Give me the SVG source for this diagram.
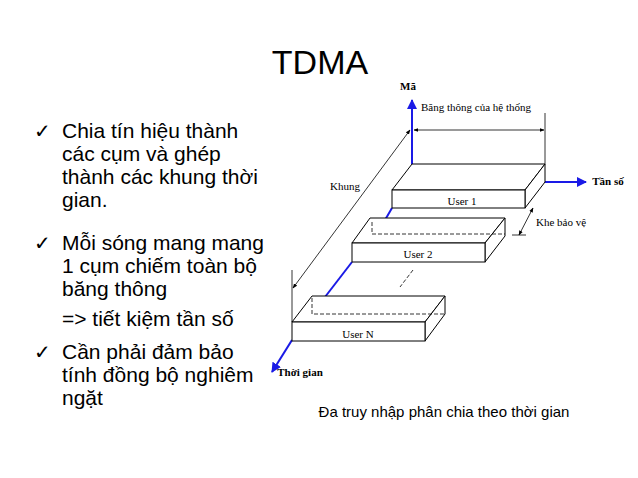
<svg xmlns="http://www.w3.org/2000/svg" width="638" height="478" viewBox="0 0 638 478">
<style>
.t{font-family:"Liberation Sans",Arial,sans-serif;font-size:21px;fill:#000}
.c{font-family:"DejaVu Sans",sans-serif;font-size:20px;font-weight:bold;fill:#000}
.s{font-family:"Liberation Serif","Times New Roman",serif;font-size:11px;fill:#000}
.b{fill:#fff;stroke:#000;stroke-width:1}
.k{stroke:#000;stroke-width:0.8;fill:none}
.ax{stroke:#1a1ae6;stroke-width:2;fill:none}
.d{stroke:#000;stroke-width:0.8;fill:none;stroke-dasharray:4 2}
</style>
<defs>
<marker id="ab" viewBox="0 0 10 10" refX="9" refY="5" markerWidth="5" markerHeight="5" orient="auto"><path d="M0,0L10,5L0,10z" fill="#1a1ae6"/></marker>
<marker id="ak" viewBox="0 0 10 10" refX="9" refY="5" markerWidth="6" markerHeight="6" orient="auto-start-reverse"><path d="M0,1L10,5L0,9z" fill="#000"/></marker>
</defs>
<rect width="638" height="478" fill="#fff"/>
<text x="320" y="74" text-anchor="middle" font-family="Liberation Sans,Arial,sans-serif" font-size="34">TDMA</text>
<g id="bullets">
<text class="c" x="34" y="138">✓</text><text class="t" x="62" y="138">Chia tín hiệu thành</text>
<text class="t" x="62" y="161">các cụm và ghép</text>
<text class="t" x="62" y="184">thành các khung thời</text>
<text class="t" x="62" y="207">gian.</text>
<text class="c" x="34" y="250">✓</text><text class="t" x="62" y="250">Mỗi sóng mang mang</text>
<text class="t" x="62" y="273">1 cụm chiếm toàn bộ</text>
<text class="t" x="62" y="296">băng thông</text>
<text class="t" x="62" y="326">=&gt; tiết kiệm tần số</text>
<text class="c" x="34" y="359">✓</text><text class="t" x="62" y="359">Cần phải đảm bảo</text>
<text class="t" x="62" y="382">tính đồng bộ nghiêm</text>
<text class="t" x="62" y="405">ngặt</text>
</g>
<g id="connectors">
<line class="ax" x1="412" y1="164" x2="412" y2="100" marker-end="url(#ab)"/>
<line class="ax" x1="545" y1="182" x2="586" y2="182" marker-end="url(#ab)"/>
<line class="ax" x1="392" y1="208" x2="385" y2="220"/>
<line class="ax" x1="352" y1="262" x2="325" y2="297"/>
<line class="ax" x1="292" y1="340" x2="272" y2="372" marker-end="url(#ab)"/>
<line class="d" x1="413" y1="270" x2="400" y2="287"/>
<line class="k" x1="545" y1="113" x2="545" y2="164"/>
<line class="k" x1="414" y1="130" x2="544" y2="130" marker-start="url(#ak)" marker-end="url(#ak)"/>
<line class="k" x1="410" y1="130" x2="293" y2="288" marker-start="url(#ak)" marker-end="url(#ak)"/>
<line class="k" x1="292" y1="270" x2="292" y2="322"/>
<line class="k" x1="533" y1="208" x2="519" y2="235" marker-start="url(#ak)" marker-end="url(#ak)"/>
<line class="k" x1="512" y1="235" x2="526" y2="235"/>
</g>
<g id="user1">
<path class="b" d="M412,164H545L525,190H392Z"/>
<path class="b" d="M525,190L545,164V182L525,208Z"/>
<rect class="b" x="392" y="190" width="133" height="18"/>
<text class="s" x="462" y="205" text-anchor="middle">User 1</text>
</g>
<g id="user2">
<path class="b" d="M370,218H505L485,243H352Z"/>
<path class="b" d="M485,243L505,218V236L485,262Z"/>
<rect class="b" x="352" y="243" width="133" height="19"/>
<path class="d" d="M372,222V234H505"/>
<text class="s" x="418" y="258" text-anchor="middle">User 2</text>
</g>
<g id="userN">
<path class="b" d="M312,296H445L425,322H292Z"/>
<path class="b" d="M425,322L445,296V314L425,341Z"/>
<rect class="b" x="292" y="322" width="133" height="19"/>
<path class="d" d="M312,298V314H445"/>
<text class="s" x="358" y="338" text-anchor="middle">User N</text>
</g>
<g id="labels">
<text class="s" x="408" y="90" text-anchor="middle" font-weight="bold">Mã</text>
<text class="s" x="476" y="111" text-anchor="middle">Băng thông của hệ thống</text>
<text class="s" x="608" y="185" text-anchor="middle" font-weight="bold">Tần số</text>
<text class="s" x="345" y="190" text-anchor="middle">Khung</text>
<text class="s" x="536" y="226">Khe bảo vệ</text>
<text class="s" x="300" y="376" text-anchor="middle" font-weight="bold">Thời gian</text>
<text x="444" y="417" text-anchor="middle" font-family="Liberation Sans,Arial,sans-serif" font-size="15">Đa truy nhập phân chia theo thời gian</text>
</g>
</svg>
